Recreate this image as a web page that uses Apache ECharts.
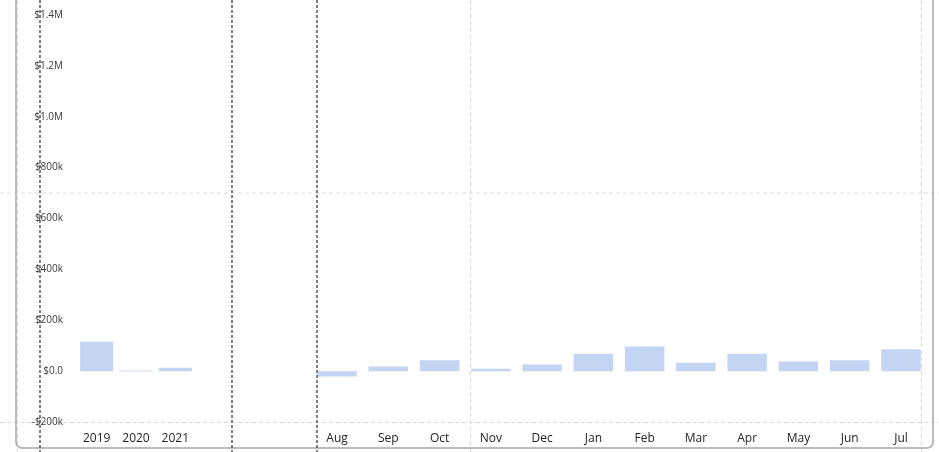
<!DOCTYPE html>
<html>
<head>
<meta charset="utf-8">
<script src="https://cdn.jsdelivr.net/npm/echarts@6/dist/echarts.min.js"></script>
<style>
html,body{margin:0;padding:0;background:#fff;}
#chart{width:939px;height:452px;}
</style>
</head>
<body>
<div id="chart"></div>
<script>
const yearCats = ['2019', '2020', '2021'];
const yearVals = [115000, 2500, 13000];
const monthCats = ['Aug', 'Sep', 'Oct', 'Nov', 'Dec', 'Jan', 'Feb', 'Mar', 'Apr', 'May', 'Jun', 'Jul'];
const monthVals = [-21000, 18000, 43000, 9000, 26000, 68000, 97000, 33000, 68000, 38000, 43000, 86000];
const yMin = -200000;
const yMax = 1400000;
const yStep = 200000;

function fmtMoney(v) {
  if (v === 0) return '$0.0';
  const sign = v < 0 ? '-' : '';
  const a = Math.abs(v);
  if (a >= 1000000) return sign + '$' + (a / 1000000).toFixed(1) + 'M';
  return sign + '$' + Math.round(a / 1000) + 'k';
}

const barColor = '#c3d5f3';
const font = '"Open Sans", "Noto Sans", sans-serif';

const chart = echarts.init(document.getElementById('chart'), null, {renderer: 'canvas'});

function vline(x, color, dash, w, z) {
  return {type: 'line', z: z, silent: true,
    shape: {x1: x, y1: 0, x2: x, y2: 452},
    style: {stroke: color, lineWidth: w, lineDash: dash}};
}
function hline(y, color, dash, w, z) {
  return {type: 'line', z: z, silent: true,
    shape: {x1: 0, y1: y, x2: 939, y2: y},
    style: {stroke: color, lineWidth: w, lineDash: dash}};
}

const option = {
  animation: false,
  backgroundColor: '#ffffff',
  textStyle: {fontFamily: font},
  grid: [
    {left: 77, width: 118, top: 15, bottom: 30},
    {left: 311.4, width: 615.2, top: 15, bottom: 30}
  ],
  xAxis: [
    {type: 'category', gridIndex: 0, data: yearCats,
      axisLine: {show: false}, axisTick: {show: false}, splitLine: {show: false},
      axisLabel: {margin: 11, fontSize: 12, fontWeight: 500, color: '#252423', fontFamily: font}},
    {type: 'category', gridIndex: 1, data: monthCats,
      axisLine: {show: false}, axisTick: {show: false}, splitLine: {show: false},
      axisLabel: {margin: 11, fontSize: 12, fontWeight: 500, color: '#252423', fontFamily: font}}
  ],
  yAxis: [
    {type: 'value', gridIndex: 0, min: yMin, max: yMax, interval: yStep,
      axisLine: {show: false}, axisTick: {show: false}, splitLine: {show: false},
      axisLabel: {margin: 14, fontSize: 10, color: '#3b3a39', fontFamily: font, formatter: fmtMoney}},
    {type: 'value', gridIndex: 1, min: yMin, max: yMax, interval: yStep,
      axisLine: {show: false}, axisTick: {show: false}, splitLine: {show: false},
      axisLabel: {show: false}}
  ],
  series: [
    {type: 'bar', xAxisIndex: 0, yAxisIndex: 0, data: yearVals, barWidth: '84%',
      itemStyle: {color: barColor}},
    {type: 'bar', xAxisIndex: 1, yAxisIndex: 1, data: monthVals, barWidth: '77%',
      itemStyle: {color: barColor}}
  ],
  graphic: [
    hline(193, '#dadada', [4, 3], 1, 0),
    hline(422.5, '#dadada', [4, 3], 1, 0),
    vline(17.5, '#dadada', [4, 3], 1, 0),
    vline(470.5, '#dadada', [4, 3], 1, 0),
    vline(921.5, '#dadada', [4, 3], 1, 0),
    {type: 'rect', z: 50, silent: true,
      shape: {x: 16, y: -12, width: 917, height: 460, r: 6},
      style: {fill: 'none', stroke: '#a6a6a6', lineWidth: 1.5}},
    vline(40, '#555555', [3, 2], 1.5, 100),
    vline(232, '#555555', [3, 2], 1.5, 100),
    vline(317, '#555555', [3, 2], 1.5, 100)
  ]
};
chart.setOption(option);
</script>
</body>
</html>
